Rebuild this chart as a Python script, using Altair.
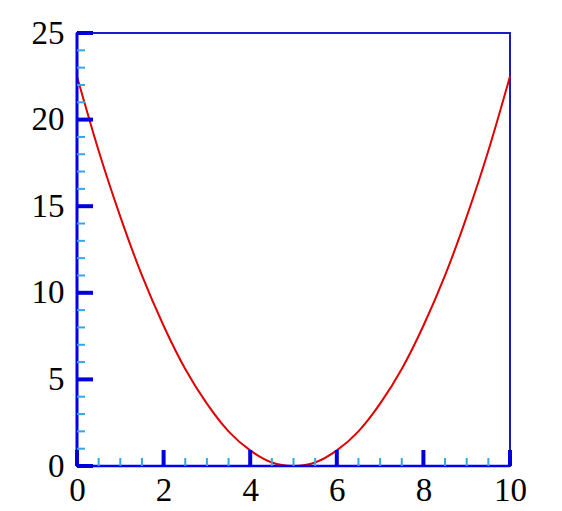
import altair as alt
import pandas as pd

# curve values
curve_x = [0, 0.5, 1, 1.5, 2, 2.5, 3, 3.5, 4, 4.5, 5, 5.5, 6, 6.5, 7, 7.5, 8, 8.5, 9, 9.5, 10]
curve_y = [22.5, 18.2, 14.4, 11.0, 8.1, 5.6, 3.6, 2.0, 0.9, 0.2, 0.0, 0.2, 0.9, 2.0, 3.6, 5.6, 8.1, 11.0, 14.4, 18.2, 22.5]

x_major = [0, 2, 4, 6, 8, 10]
x_minor = [0.5, 1, 1.5, 2.5, 3, 3.5, 4.5, 5, 5.5, 6.5, 7, 7.5, 8.5, 9, 9.5]
y_major = [0, 5, 10, 15, 20, 25]
y_minor = [1, 2, 3, 4, 6, 7, 8, 9, 11, 12, 13, 14, 16, 17, 18, 19, 21, 22, 23, 24]

W = 433
H = 433
FONT = "Liberation Serif"
FS = 33

curve_df = pd.DataFrame({"x": curve_x, "y": curve_y})
xmaj_df = pd.DataFrame({"x": x_major})
xmin_df = pd.DataFrame({"x": x_minor})
ymaj_df = pd.DataFrame({"y": y_major})
ymin_df = pd.DataFrame({"y": y_minor})

xscale = alt.Scale(domain=[0, 10], nice=False, zero=False)
yscale = alt.Scale(domain=[0, 25], nice=False, zero=False)

xaxis = alt.Axis(values=x_major, title=None, domain=False, ticks=False, grid=False,
                 labelFont=FONT, labelFontSize=FS, labelColor="black", labelPadding=8,
                 labelFlush=False)
yaxis = alt.Axis(values=y_major, title=None, domain=False, ticks=False, grid=False,
                 labelFont=FONT, labelFontSize=FS, labelColor="black", labelPadding=13)

base_curve = alt.Chart(curve_df).mark_line(color="#e00000", strokeWidth=2, interpolate="natural").encode(
    x=alt.X("x:Q", scale=xscale, axis=xaxis),
    y=alt.Y("y:Q", scale=yscale, axis=yaxis),
)

# frame: left and bottom heavier
left_line = alt.Chart(pd.DataFrame({"x": [0]})).mark_rule(color="#0000ee", strokeWidth=3).encode(
    x=alt.X("x:Q", scale=xscale), y=alt.value(0), y2=alt.value(H))
bottom_line = alt.Chart(pd.DataFrame({"y": [0]})).mark_rule(color="#0000ee", strokeWidth=2.5).encode(
    y=alt.Y("y:Q", scale=yscale), x=alt.value(0), x2=alt.value(W))

xmin_ticks = alt.Chart(xmin_df).mark_rule(color="#33a8e0", strokeWidth=2).encode(
    x=alt.X("x:Q", scale=xscale), y=alt.value(H), y2=alt.value(H - 8))
xmaj_ticks = alt.Chart(xmaj_df).mark_rule(color="#0000dd", strokeWidth=4).encode(
    x=alt.X("x:Q", scale=xscale), y=alt.value(H), y2=alt.value(H - 16))
ymin_ticks = alt.Chart(ymin_df).mark_rule(color="#33a8e0", strokeWidth=2).encode(
    y=alt.Y("y:Q", scale=yscale), x=alt.value(0), x2=alt.value(8))
ymaj_ticks = alt.Chart(ymaj_df).mark_rule(color="#0000dd", strokeWidth=4).encode(
    y=alt.Y("y:Q", scale=yscale), x=alt.value(0), x2=alt.value(16))

chart = alt.layer(
    base_curve, left_line, bottom_line, xmin_ticks, ymin_ticks, xmaj_ticks, ymaj_ticks
).properties(
    width=W, height=H,
    autosize=alt.AutoSizeParams(type="none"),
    padding={"left": 69, "top": 25, "right": 40, "bottom": 45},
    background="white",
).configure_view(
    stroke="#1a1acc", strokeWidth=2
)

chart.save("out.html", embed_options={"renderer": "svg", "actions": False})
